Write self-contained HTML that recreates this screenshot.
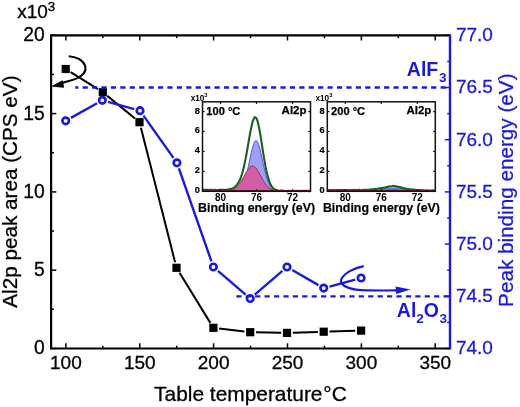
<!DOCTYPE html>
<html><head><meta charset="utf-8"><style>html,body{margin:0;padding:0;background:#fff;overflow:hidden}svg{display:block}</style></head>
<body>
<svg width="520" height="407" viewBox="0 0 520 407">
<rect width="520" height="407" fill="#fff"/>
<path d="M202.5,191.3 L203.4,191.3 L204.3,191.3 L205.2,191.3 L206.1,191.3 L207.0,191.3 L207.9,191.3 L208.8,191.3 L209.7,191.3 L210.6,191.3 L211.5,191.3 L212.4,191.3 L213.3,191.3 L214.2,191.3 L215.1,191.3 L216.0,191.3 L216.9,191.3 L217.8,191.3 L218.7,191.3 L219.6,191.3 L220.5,191.3 L221.4,191.3 L222.3,191.3 L223.2,191.3 L224.1,191.3 L225.0,191.3 L225.9,191.3 L226.8,191.3 L227.7,191.3 L228.6,191.3 L229.5,191.3 L230.4,191.3 L231.3,191.3 L232.2,191.2 L233.1,191.2 L234.0,191.1 L234.9,191.1 L235.8,190.9 L236.7,190.7 L237.6,190.4 L238.5,190.0 L239.4,189.4 L240.3,188.7 L241.2,187.6 L242.1,186.3 L243.0,184.6 L243.9,182.5 L244.8,180.0 L245.7,177.1 L246.6,173.8 L247.5,170.0 L248.4,166.0 L249.3,161.8 L250.2,157.5 L251.1,153.3 L252.0,149.5 L252.9,146.2 L253.8,143.5 L254.7,141.6 L255.6,140.6 L256.5,140.6 L257.4,141.6 L258.3,143.5 L259.2,146.2 L260.1,149.5 L261.0,153.3 L261.9,157.5 L262.8,161.8 L263.7,166.0 L264.6,170.0 L265.5,173.8 L266.4,177.1 L267.3,180.0 L268.2,182.5 L269.1,184.6 L270.0,186.3 L270.9,187.6 L271.8,188.7 L272.7,189.4 L273.6,190.0 L274.5,190.4 L275.4,190.7 L276.3,190.9 L277.2,191.1 L278.1,191.1 L279.0,191.2 L279.9,191.2 L280.8,191.3 L281.7,191.3 L282.6,191.3 L283.5,191.3 L284.4,191.3 L285.3,191.3 L286.2,191.3 L287.1,191.3 L288.0,191.3 L288.9,191.3 L289.8,191.3 L290.7,191.3 L291.6,191.3 L292.5,191.3 L293.4,191.3 L294.3,191.3 L295.2,191.3 L296.1,191.3 L297.0,191.3 L297.9,191.3 L298.8,191.3 L299.7,191.3 L300.6,191.3 L301.5,191.3 L302.4,191.3 L303.3,191.3 L304.2,191.3 L305.1,191.3 L306.0,191.3 L306.9,191.3 L307.8,191.3 L308.7,191.3 L309.6,191.3 L310.5,191.3 L310.50,191.3 L202.50,191.3 Z" fill="#9ca0f8" stroke="none"/>
<path d="M202.5,191.3 L203.4,191.3 L204.3,191.3 L205.2,191.3 L206.1,191.3 L207.0,191.3 L207.9,191.3 L208.8,191.3 L209.7,191.3 L210.6,191.3 L211.5,191.3 L212.4,191.3 L213.3,191.3 L214.2,191.3 L215.1,191.3 L216.0,191.3 L216.9,191.3 L217.8,191.3 L218.7,191.3 L219.6,191.3 L220.5,191.3 L221.4,191.3 L222.3,191.3 L223.2,191.3 L224.1,191.3 L225.0,191.3 L225.9,191.3 L226.8,191.3 L227.7,191.3 L228.6,191.3 L229.5,191.3 L230.4,191.3 L231.3,191.3 L232.2,191.2 L233.1,191.2 L234.0,191.1 L234.9,191.1 L235.8,190.9 L236.7,190.7 L237.6,190.4 L238.5,190.0 L239.4,189.4 L240.3,188.7 L241.2,187.6 L242.1,186.3 L243.0,184.6 L243.9,182.5 L244.8,180.0 L245.7,177.1 L246.6,173.8 L247.5,170.0 L248.4,166.0 L249.3,161.8 L250.2,157.5 L251.1,153.3 L252.0,149.5 L252.9,146.2 L253.8,143.5 L254.7,141.6 L255.6,140.6 L256.5,140.6 L257.4,141.6 L258.3,143.5 L259.2,146.2 L260.1,149.5 L261.0,153.3 L261.9,157.5 L262.8,161.8 L263.7,166.0 L264.6,170.0 L265.5,173.8 L266.4,177.1 L267.3,180.0 L268.2,182.5 L269.1,184.6 L270.0,186.3 L270.9,187.6 L271.8,188.7 L272.7,189.4 L273.6,190.0 L274.5,190.4 L275.4,190.7 L276.3,190.9 L277.2,191.1 L278.1,191.1 L279.0,191.2 L279.9,191.2 L280.8,191.3 L281.7,191.3 L282.6,191.3 L283.5,191.3 L284.4,191.3 L285.3,191.3 L286.2,191.3 L287.1,191.3 L288.0,191.3 L288.9,191.3 L289.8,191.3 L290.7,191.3 L291.6,191.3 L292.5,191.3 L293.4,191.3 L294.3,191.3 L295.2,191.3 L296.1,191.3 L297.0,191.3 L297.9,191.3 L298.8,191.3 L299.7,191.3 L300.6,191.3 L301.5,191.3 L302.4,191.3 L303.3,191.3 L304.2,191.3 L305.1,191.3 L306.0,191.3 L306.9,191.3 L307.8,191.3 L308.7,191.3 L309.6,191.3 L310.5,191.3" fill="none" stroke="#5858e0" stroke-width="1"/>
<path d="M202.5,191.3 L203.4,191.3 L204.3,191.3 L205.2,191.3 L206.1,191.3 L207.0,191.3 L207.9,191.3 L208.8,191.3 L209.7,191.3 L210.6,191.3 L211.5,191.3 L212.4,191.3 L213.3,191.3 L214.2,191.3 L215.1,191.3 L216.0,191.3 L216.9,191.3 L217.8,191.3 L218.7,191.3 L219.6,191.3 L220.5,191.3 L221.4,191.3 L222.3,191.3 L223.2,191.3 L224.1,191.2 L225.0,191.2 L225.9,191.2 L226.8,191.1 L227.7,191.0 L228.6,190.9 L229.5,190.8 L230.4,190.6 L231.3,190.3 L232.2,190.0 L233.1,189.6 L234.0,189.2 L234.9,188.6 L235.8,187.9 L236.7,187.1 L237.6,186.2 L238.5,185.2 L239.4,184.0 L240.3,182.6 L241.2,181.2 L242.1,179.7 L243.0,178.1 L243.9,176.4 L244.8,174.7 L245.7,173.1 L246.6,171.5 L247.5,170.1 L248.4,168.8 L249.3,167.7 L250.2,166.8 L251.1,166.2 L252.0,165.9 L252.9,165.9 L253.8,166.2 L254.7,166.8 L255.6,167.7 L256.5,168.8 L257.4,170.1 L258.3,171.5 L259.2,173.1 L260.1,174.7 L261.0,176.4 L261.9,178.1 L262.8,179.7 L263.7,181.2 L264.6,182.6 L265.5,184.0 L266.4,185.2 L267.3,186.2 L268.2,187.1 L269.1,187.9 L270.0,188.6 L270.9,189.2 L271.8,189.6 L272.7,190.0 L273.6,190.3 L274.5,190.6 L275.4,190.8 L276.3,190.9 L277.2,191.0 L278.1,191.1 L279.0,191.2 L279.9,191.2 L280.8,191.2 L281.7,191.3 L282.6,191.3 L283.5,191.3 L284.4,191.3 L285.3,191.3 L286.2,191.3 L287.1,191.3 L288.0,191.3 L288.9,191.3 L289.8,191.3 L290.7,191.3 L291.6,191.3 L292.5,191.3 L293.4,191.3 L294.3,191.3 L295.2,191.3 L296.1,191.3 L297.0,191.3 L297.9,191.3 L298.8,191.3 L299.7,191.3 L300.6,191.3 L301.5,191.3 L302.4,191.3 L303.3,191.3 L304.2,191.3 L305.1,191.3 L306.0,191.3 L306.9,191.3 L307.8,191.3 L308.7,191.3 L309.6,191.3 L310.5,191.3 L310.50,191.3 L202.50,191.3 Z" fill="#cf5ea2" stroke="none"/>
<path d="M202.5,191.3 L203.4,191.3 L204.3,191.3 L205.2,191.3 L206.1,191.3 L207.0,191.3 L207.9,191.3 L208.8,191.3 L209.7,191.3 L210.6,191.3 L211.5,191.3 L212.4,191.3 L213.3,191.3 L214.2,191.3 L215.1,191.3 L216.0,191.3 L216.9,191.3 L217.8,191.3 L218.7,191.3 L219.6,191.3 L220.5,191.3 L221.4,191.3 L222.3,191.3 L223.2,191.3 L224.1,191.2 L225.0,191.2 L225.9,191.2 L226.8,191.1 L227.7,191.0 L228.6,190.9 L229.5,190.8 L230.4,190.6 L231.3,190.3 L232.2,190.0 L233.1,189.6 L234.0,189.2 L234.9,188.6 L235.8,187.9 L236.7,187.1 L237.6,186.2 L238.5,185.2 L239.4,184.0 L240.3,182.6 L241.2,181.2 L242.1,179.7 L243.0,178.1 L243.9,176.4 L244.8,174.7 L245.7,173.1 L246.6,171.5 L247.5,170.1 L248.4,168.8 L249.3,167.7 L250.2,166.8 L251.1,166.2 L252.0,165.9 L252.9,165.9 L253.8,166.2 L254.7,166.8 L255.6,167.7 L256.5,168.8 L257.4,170.1 L258.3,171.5 L259.2,173.1 L260.1,174.7 L261.0,176.4 L261.9,178.1 L262.8,179.7 L263.7,181.2 L264.6,182.6 L265.5,184.0 L266.4,185.2 L267.3,186.2 L268.2,187.1 L269.1,187.9 L270.0,188.6 L270.9,189.2 L271.8,189.6 L272.7,190.0 L273.6,190.3 L274.5,190.6 L275.4,190.8 L276.3,190.9 L277.2,191.0 L278.1,191.1 L279.0,191.2 L279.9,191.2 L280.8,191.2 L281.7,191.3 L282.6,191.3 L283.5,191.3 L284.4,191.3 L285.3,191.3 L286.2,191.3 L287.1,191.3 L288.0,191.3 L288.9,191.3 L289.8,191.3 L290.7,191.3 L291.6,191.3 L292.5,191.3 L293.4,191.3 L294.3,191.3 L295.2,191.3 L296.1,191.3 L297.0,191.3 L297.9,191.3 L298.8,191.3 L299.7,191.3 L300.6,191.3 L301.5,191.3 L302.4,191.3 L303.3,191.3 L304.2,191.3 L305.1,191.3 L306.0,191.3 L306.9,191.3 L307.8,191.3 L308.7,191.3 L309.6,191.3 L310.5,191.3" fill="none" stroke="#a82a5e" stroke-width="1"/>
<path d="M202.5,189.8 L203.4,189.8 L204.3,189.8 L205.2,189.7 L206.1,189.8 L207.0,189.7 L207.9,190.1 L208.8,189.9 L209.7,189.7 L210.6,189.8 L211.5,189.7 L212.4,190.1 L213.3,189.9 L214.2,190.0 L215.1,189.9 L216.0,189.9 L216.9,190.1 L217.8,190.0 L218.7,190.0 L219.6,189.7 L220.5,189.8 L221.4,190.1 L222.3,189.7 L223.2,190.0 L224.1,189.8 L225.0,190.0 L225.9,190.0 L226.8,189.5 L227.7,189.8 L228.6,189.7 L229.5,189.1 L230.4,189.0 L231.3,189.0 L232.2,188.4 L233.1,188.2 L234.0,187.6 L234.9,187.2 L235.8,186.0 L236.7,185.2 L237.6,183.8 L238.5,182.4 L239.4,181.0 L240.3,178.9 L241.2,176.6 L242.1,173.8 L243.0,170.6 L243.9,166.8 L244.8,162.6 L245.7,158.4 L246.6,153.2 L247.5,148.3 L248.4,143.1 L249.3,137.7 L250.2,132.8 L251.1,128.3 L252.0,124.2 L252.9,120.8 L253.8,118.8 L254.7,117.1 L255.6,117.5 L256.5,118.3 L257.4,120.5 L258.3,124.2 L259.2,128.1 L260.1,133.2 L261.0,138.6 L261.9,144.6 L262.8,150.4 L263.7,156.1 L264.6,161.1 L265.5,166.4 L266.4,170.7 L267.3,174.5 L268.2,177.9 L269.1,181.0 L270.0,183.3 L270.9,185.1 L271.8,186.5 L272.7,188.0 L273.6,188.5 L274.5,189.1 L275.4,189.6 L276.3,190.3 L277.2,190.1 L278.1,190.7 L279.0,190.7 L279.9,190.7 L280.8,190.6 L281.7,190.9 L282.6,190.6 L283.5,190.8 L284.4,191.0 L285.3,191.0 L286.2,191.1 L287.1,191.1 L288.0,191.1 L288.9,190.8 L289.8,190.7 L290.7,191.1 L291.6,191.1 L292.5,190.7 L293.4,190.9 L294.3,190.9 L295.2,191.0 L296.1,190.9 L297.0,190.7 L297.9,190.9 L298.8,190.9 L299.7,191.1 L300.6,190.7 L301.5,191.1 L302.4,190.9 L303.3,190.7 L304.2,191.1 L305.1,190.8 L306.0,190.7 L306.9,190.8 L307.8,190.8 L308.7,191.1 L309.6,190.9 L310.5,191.1" fill="none" stroke="#1b5f22" stroke-width="2.1" stroke-linejoin="round"/>
<line x1="202.5" y1="190.5" x2="310.5" y2="190.5" stroke="#7a1a2a" stroke-width="1"/>
<rect x="202.5" y="101.8" width="108.0" height="89.50000000000001" fill="none" stroke="#111" stroke-width="1.5"/>
<line x1="202.5" y1="171.38" x2="204.7" y2="171.38" stroke="#1a1a1a" stroke-width="1.2"/>
<line x1="310.5" y1="171.38" x2="308.3" y2="171.38" stroke="#1a1a1a" stroke-width="1.2"/>
<line x1="202.5" y1="151.45" x2="204.7" y2="151.45" stroke="#1a1a1a" stroke-width="1.2"/>
<line x1="310.5" y1="151.45" x2="308.3" y2="151.45" stroke="#1a1a1a" stroke-width="1.2"/>
<line x1="202.5" y1="131.53" x2="204.7" y2="131.53" stroke="#1a1a1a" stroke-width="1.2"/>
<line x1="310.5" y1="131.53" x2="308.3" y2="131.53" stroke="#1a1a1a" stroke-width="1.2"/>
<line x1="202.5" y1="111.60" x2="204.7" y2="111.60" stroke="#1a1a1a" stroke-width="1.2"/>
<line x1="310.5" y1="111.60" x2="308.3" y2="111.60" stroke="#1a1a1a" stroke-width="1.2"/>
<line x1="220.50" y1="101.8" x2="220.50" y2="104.0" stroke="#1a1a1a" stroke-width="1.2"/>
<line x1="220.50" y1="191.3" x2="220.50" y2="189.10000000000002" stroke="#1a1a1a" stroke-width="1.2"/>
<line x1="256.50" y1="101.8" x2="256.50" y2="104.0" stroke="#1a1a1a" stroke-width="1.2"/>
<line x1="256.50" y1="191.3" x2="256.50" y2="189.10000000000002" stroke="#1a1a1a" stroke-width="1.2"/>
<line x1="292.50" y1="101.8" x2="292.50" y2="104.0" stroke="#1a1a1a" stroke-width="1.2"/>
<line x1="292.50" y1="191.3" x2="292.50" y2="189.10000000000002" stroke="#1a1a1a" stroke-width="1.2"/>
<text x="199.90" y="193.20" font-family="Liberation Sans, Arial, sans-serif" font-size="9.2" font-weight="bold" text-anchor="end" stroke="#000" stroke-width="0.2">0</text>
<text x="199.90" y="173.28" font-family="Liberation Sans, Arial, sans-serif" font-size="9.2" font-weight="bold" text-anchor="end" stroke="#000" stroke-width="0.2">2</text>
<text x="199.90" y="153.35" font-family="Liberation Sans, Arial, sans-serif" font-size="9.2" font-weight="bold" text-anchor="end" stroke="#000" stroke-width="0.2">4</text>
<text x="199.90" y="133.43" font-family="Liberation Sans, Arial, sans-serif" font-size="9.2" font-weight="bold" text-anchor="end" stroke="#000" stroke-width="0.2">6</text>
<text x="199.90" y="113.50" font-family="Liberation Sans, Arial, sans-serif" font-size="9.2" font-weight="bold" text-anchor="end" stroke="#000" stroke-width="0.2">8</text>
<text x="220.50" y="200.6" font-family="Liberation Sans, Arial, sans-serif" font-size="10" font-weight="bold" text-anchor="middle">80</text>
<text x="256.50" y="200.6" font-family="Liberation Sans, Arial, sans-serif" font-size="10" font-weight="bold" text-anchor="middle">76</text>
<text x="292.50" y="200.6" font-family="Liberation Sans, Arial, sans-serif" font-size="10" font-weight="bold" text-anchor="middle">72</text>
<text x="190.70" y="100.8" font-family="Liberation Sans, Arial, sans-serif" font-size="8.2" font-weight="bold">x10<tspan font-size="5.6" dy="-3.6">3</tspan></text>
<text x="206.30" y="114.7" font-family="Liberation Sans, Arial, sans-serif" font-size="11.1" font-weight="bold" stroke="#000" stroke-width="0.25">100 °C</text>
<text x="306.50" y="114.0" font-family="Liberation Sans, Arial, sans-serif" font-size="11.5" font-weight="bold" text-anchor="end" stroke="#000" stroke-width="0.25">Al2p</text>
<text x="198.10" y="211.7" font-family="Liberation Sans, Arial, sans-serif" font-size="12.4" font-weight="bold" stroke="#000" stroke-width="0.2">Binding energy (eV)</text>
<path d="M327.3,191.3 L328.2,191.3 L329.1,191.3 L330.0,191.3 L330.9,191.3 L331.8,191.3 L332.7,191.3 L333.6,191.3 L334.5,191.3 L335.4,191.3 L336.3,191.3 L337.2,191.3 L338.1,191.3 L339.0,191.3 L339.9,191.3 L340.8,191.3 L341.7,191.3 L342.6,191.3 L343.5,191.3 L344.4,191.3 L345.3,191.3 L346.2,191.3 L347.1,191.3 L348.0,191.3 L348.9,191.3 L349.8,191.3 L350.7,191.3 L351.6,191.3 L352.5,191.3 L353.4,191.3 L354.3,191.3 L355.2,191.3 L356.1,191.3 L357.0,191.3 L357.9,191.3 L358.8,191.3 L359.7,191.3 L360.6,191.3 L361.5,191.2 L362.4,191.2 L363.3,191.2 L364.2,191.2 L365.1,191.2 L366.0,191.2 L366.9,191.1 L367.8,191.1 L368.7,191.0 L369.6,191.0 L370.5,190.9 L371.4,190.9 L372.3,190.8 L373.2,190.7 L374.1,190.6 L375.0,190.5 L375.9,190.4 L376.8,190.3 L377.7,190.2 L378.6,190.0 L379.5,189.9 L380.4,189.7 L381.3,189.6 L382.2,189.4 L383.1,189.3 L384.0,189.1 L384.9,189.0 L385.8,188.8 L386.7,188.7 L387.6,188.6 L388.5,188.5 L389.4,188.4 L390.3,188.3 L391.2,188.2 L392.1,188.2 L393.0,188.1 L393.9,188.1 L394.8,188.1 L395.7,188.2 L396.6,188.2 L397.5,188.3 L398.4,188.4 L399.3,188.5 L400.2,188.6 L401.1,188.7 L402.0,188.8 L402.9,189.0 L403.8,189.1 L404.7,189.3 L405.6,189.4 L406.5,189.6 L407.4,189.7 L408.3,189.9 L409.2,190.0 L410.1,190.2 L411.0,190.3 L411.9,190.4 L412.8,190.5 L413.7,190.6 L414.6,190.7 L415.5,190.8 L416.4,190.9 L417.3,190.9 L418.2,191.0 L419.1,191.0 L420.0,191.1 L420.9,191.1 L421.8,191.2 L422.7,191.2 L423.6,191.2 L424.5,191.2 L425.4,191.2 L426.3,191.2 L427.2,191.3 L428.1,191.3 L429.0,191.3 L429.9,191.3 L430.8,191.3 L431.7,191.3 L432.6,191.3 L433.5,191.3 L434.4,191.3 L435.3,191.3 L435.30,191.3 L327.30,191.3 Z" fill="#9ca0f8" stroke="none"/>
<path d="M327.3,191.3 L328.2,191.3 L329.1,191.3 L330.0,191.3 L330.9,191.3 L331.8,191.3 L332.7,191.3 L333.6,191.3 L334.5,191.3 L335.4,191.3 L336.3,191.3 L337.2,191.3 L338.1,191.3 L339.0,191.3 L339.9,191.3 L340.8,191.3 L341.7,191.3 L342.6,191.3 L343.5,191.3 L344.4,191.3 L345.3,191.3 L346.2,191.3 L347.1,191.3 L348.0,191.3 L348.9,191.3 L349.8,191.3 L350.7,191.3 L351.6,191.3 L352.5,191.3 L353.4,191.3 L354.3,191.3 L355.2,191.3 L356.1,191.3 L357.0,191.3 L357.9,191.3 L358.8,191.3 L359.7,191.3 L360.6,191.3 L361.5,191.2 L362.4,191.2 L363.3,191.2 L364.2,191.2 L365.1,191.2 L366.0,191.2 L366.9,191.1 L367.8,191.1 L368.7,191.0 L369.6,191.0 L370.5,190.9 L371.4,190.9 L372.3,190.8 L373.2,190.7 L374.1,190.6 L375.0,190.5 L375.9,190.4 L376.8,190.3 L377.7,190.2 L378.6,190.0 L379.5,189.9 L380.4,189.7 L381.3,189.6 L382.2,189.4 L383.1,189.3 L384.0,189.1 L384.9,189.0 L385.8,188.8 L386.7,188.7 L387.6,188.6 L388.5,188.5 L389.4,188.4 L390.3,188.3 L391.2,188.2 L392.1,188.2 L393.0,188.1 L393.9,188.1 L394.8,188.1 L395.7,188.2 L396.6,188.2 L397.5,188.3 L398.4,188.4 L399.3,188.5 L400.2,188.6 L401.1,188.7 L402.0,188.8 L402.9,189.0 L403.8,189.1 L404.7,189.3 L405.6,189.4 L406.5,189.6 L407.4,189.7 L408.3,189.9 L409.2,190.0 L410.1,190.2 L411.0,190.3 L411.9,190.4 L412.8,190.5 L413.7,190.6 L414.6,190.7 L415.5,190.8 L416.4,190.9 L417.3,190.9 L418.2,191.0 L419.1,191.0 L420.0,191.1 L420.9,191.1 L421.8,191.2 L422.7,191.2 L423.6,191.2 L424.5,191.2 L425.4,191.2 L426.3,191.2 L427.2,191.3 L428.1,191.3 L429.0,191.3 L429.9,191.3 L430.8,191.3 L431.7,191.3 L432.6,191.3 L433.5,191.3 L434.4,191.3 L435.3,191.3" fill="none" stroke="#5858e0" stroke-width="1"/>
<path d="M327.3,191.3 L328.2,191.3 L329.1,191.3 L330.0,191.3 L330.9,191.3 L331.8,191.3 L332.7,191.3 L333.6,191.3 L334.5,191.3 L335.4,191.3 L336.3,191.3 L337.2,191.3 L338.1,191.3 L339.0,191.3 L339.9,191.3 L340.8,191.3 L341.7,191.3 L342.6,191.3 L343.5,191.3 L344.4,191.3 L345.3,191.3 L346.2,191.3 L347.1,191.3 L348.0,191.3 L348.9,191.3 L349.8,191.3 L350.7,191.3 L351.6,191.3 L352.5,191.3 L353.4,191.3 L354.3,191.3 L355.2,191.3 L356.1,191.3 L357.0,191.3 L357.9,191.3 L358.8,191.3 L359.7,191.3 L360.6,191.3 L361.5,191.3 L362.4,191.3 L363.3,191.3 L364.2,191.3 L365.1,191.2 L366.0,191.2 L366.9,191.2 L367.8,191.2 L368.7,191.2 L369.6,191.1 L370.5,191.1 L371.4,191.1 L372.3,191.0 L373.2,191.0 L374.1,190.9 L375.0,190.9 L375.9,190.8 L376.8,190.7 L377.7,190.7 L378.6,190.6 L379.5,190.5 L380.4,190.4 L381.3,190.3 L382.2,190.2 L383.1,190.1 L384.0,190.0 L384.9,189.9 L385.8,189.9 L386.7,189.8 L387.6,189.7 L388.5,189.6 L389.4,189.6 L390.3,189.5 L391.2,189.5 L392.1,189.5 L393.0,189.5 L393.9,189.5 L394.8,189.5 L395.7,189.6 L396.6,189.6 L397.5,189.7 L398.4,189.8 L399.3,189.9 L400.2,189.9 L401.1,190.0 L402.0,190.1 L402.9,190.2 L403.8,190.3 L404.7,190.4 L405.6,190.5 L406.5,190.6 L407.4,190.7 L408.3,190.7 L409.2,190.8 L410.1,190.9 L411.0,190.9 L411.9,191.0 L412.8,191.0 L413.7,191.1 L414.6,191.1 L415.5,191.1 L416.4,191.2 L417.3,191.2 L418.2,191.2 L419.1,191.2 L420.0,191.2 L420.9,191.3 L421.8,191.3 L422.7,191.3 L423.6,191.3 L424.5,191.3 L425.4,191.3 L426.3,191.3 L427.2,191.3 L428.1,191.3 L429.0,191.3 L429.9,191.3 L430.8,191.3 L431.7,191.3 L432.6,191.3 L433.5,191.3 L434.4,191.3 L435.3,191.3 L435.30,191.3 L327.30,191.3 Z" fill="#cf5ea2" stroke="none"/>
<path d="M327.3,191.3 L328.2,191.3 L329.1,191.3 L330.0,191.3 L330.9,191.3 L331.8,191.3 L332.7,191.3 L333.6,191.3 L334.5,191.3 L335.4,191.3 L336.3,191.3 L337.2,191.3 L338.1,191.3 L339.0,191.3 L339.9,191.3 L340.8,191.3 L341.7,191.3 L342.6,191.3 L343.5,191.3 L344.4,191.3 L345.3,191.3 L346.2,191.3 L347.1,191.3 L348.0,191.3 L348.9,191.3 L349.8,191.3 L350.7,191.3 L351.6,191.3 L352.5,191.3 L353.4,191.3 L354.3,191.3 L355.2,191.3 L356.1,191.3 L357.0,191.3 L357.9,191.3 L358.8,191.3 L359.7,191.3 L360.6,191.3 L361.5,191.3 L362.4,191.3 L363.3,191.3 L364.2,191.3 L365.1,191.2 L366.0,191.2 L366.9,191.2 L367.8,191.2 L368.7,191.2 L369.6,191.1 L370.5,191.1 L371.4,191.1 L372.3,191.0 L373.2,191.0 L374.1,190.9 L375.0,190.9 L375.9,190.8 L376.8,190.7 L377.7,190.7 L378.6,190.6 L379.5,190.5 L380.4,190.4 L381.3,190.3 L382.2,190.2 L383.1,190.1 L384.0,190.0 L384.9,189.9 L385.8,189.9 L386.7,189.8 L387.6,189.7 L388.5,189.6 L389.4,189.6 L390.3,189.5 L391.2,189.5 L392.1,189.5 L393.0,189.5 L393.9,189.5 L394.8,189.5 L395.7,189.6 L396.6,189.6 L397.5,189.7 L398.4,189.8 L399.3,189.9 L400.2,189.9 L401.1,190.0 L402.0,190.1 L402.9,190.2 L403.8,190.3 L404.7,190.4 L405.6,190.5 L406.5,190.6 L407.4,190.7 L408.3,190.7 L409.2,190.8 L410.1,190.9 L411.0,190.9 L411.9,191.0 L412.8,191.0 L413.7,191.1 L414.6,191.1 L415.5,191.1 L416.4,191.2 L417.3,191.2 L418.2,191.2 L419.1,191.2 L420.0,191.2 L420.9,191.3 L421.8,191.3 L422.7,191.3 L423.6,191.3 L424.5,191.3 L425.4,191.3 L426.3,191.3 L427.2,191.3 L428.1,191.3 L429.0,191.3 L429.9,191.3 L430.8,191.3 L431.7,191.3 L432.6,191.3 L433.5,191.3 L434.4,191.3 L435.3,191.3" fill="none" stroke="#a82a5e" stroke-width="1"/>
<path d="M327.3,190.2 L328.2,190.1 L329.1,190.2 L330.0,190.1 L330.9,190.0 L331.8,190.3 L332.7,190.3 L333.6,189.9 L334.5,190.2 L335.4,190.2 L336.3,189.9 L337.2,190.1 L338.1,189.9 L339.0,190.1 L339.9,190.0 L340.8,190.3 L341.7,190.0 L342.6,189.9 L343.5,190.1 L344.4,190.0 L345.3,190.0 L346.2,190.3 L347.1,190.0 L348.0,190.0 L348.9,190.2 L349.8,190.3 L350.7,189.9 L351.6,190.1 L352.5,190.0 L353.4,189.9 L354.3,190.0 L355.2,189.9 L356.1,190.1 L357.0,189.9 L357.9,190.1 L358.8,189.8 L359.7,189.8 L360.6,190.2 L361.5,190.2 L362.4,190.1 L363.3,189.7 L364.2,189.9 L365.1,189.8 L366.0,189.9 L366.9,189.8 L367.8,189.8 L368.7,189.8 L369.6,189.6 L370.5,189.6 L371.4,189.3 L372.3,189.4 L373.2,189.2 L374.1,189.1 L375.0,188.9 L375.9,189.0 L376.8,189.1 L377.7,188.7 L378.6,188.5 L379.5,188.4 L380.4,188.4 L381.3,188.1 L382.2,188.2 L383.1,187.7 L384.0,187.7 L384.9,187.6 L385.8,187.5 L386.7,186.9 L387.6,186.7 L388.5,186.9 L389.4,186.4 L390.3,186.4 L391.2,186.4 L392.1,186.2 L393.0,185.9 L393.9,185.8 L394.8,186.4 L395.7,186.2 L396.6,186.7 L397.5,186.6 L398.4,187.0 L399.3,186.9 L400.2,187.1 L401.1,187.6 L402.0,187.5 L402.9,188.1 L403.8,188.4 L404.7,188.3 L405.6,188.8 L406.5,188.9 L407.4,188.9 L408.3,189.0 L409.2,189.4 L410.1,189.6 L411.0,189.3 L411.9,189.7 L412.8,189.4 L413.7,189.6 L414.6,189.9 L415.5,189.9 L416.4,190.0 L417.3,190.0 L418.2,190.1 L419.1,190.1 L420.0,190.1 L420.9,190.0 L421.8,190.3 L422.7,190.3 L423.6,190.2 L424.5,190.5 L425.4,190.5 L426.3,190.2 L427.2,190.4 L428.1,190.4 L429.0,190.7 L429.9,190.5 L430.8,190.4 L431.7,190.7 L432.6,190.4 L433.5,190.4 L434.4,190.7 L435.3,190.4" fill="none" stroke="#1b5f22" stroke-width="2.1" stroke-linejoin="round"/>
<line x1="327.3" y1="190.5" x2="435.3" y2="190.5" stroke="#7a1a2a" stroke-width="1"/>
<rect x="327.3" y="101.8" width="108.0" height="89.50000000000001" fill="none" stroke="#111" stroke-width="1.5"/>
<line x1="327.3" y1="171.38" x2="329.5" y2="171.38" stroke="#1a1a1a" stroke-width="1.2"/>
<line x1="435.3" y1="171.38" x2="433.1" y2="171.38" stroke="#1a1a1a" stroke-width="1.2"/>
<line x1="327.3" y1="151.45" x2="329.5" y2="151.45" stroke="#1a1a1a" stroke-width="1.2"/>
<line x1="435.3" y1="151.45" x2="433.1" y2="151.45" stroke="#1a1a1a" stroke-width="1.2"/>
<line x1="327.3" y1="131.53" x2="329.5" y2="131.53" stroke="#1a1a1a" stroke-width="1.2"/>
<line x1="435.3" y1="131.53" x2="433.1" y2="131.53" stroke="#1a1a1a" stroke-width="1.2"/>
<line x1="327.3" y1="111.60" x2="329.5" y2="111.60" stroke="#1a1a1a" stroke-width="1.2"/>
<line x1="435.3" y1="111.60" x2="433.1" y2="111.60" stroke="#1a1a1a" stroke-width="1.2"/>
<line x1="345.30" y1="101.8" x2="345.30" y2="104.0" stroke="#1a1a1a" stroke-width="1.2"/>
<line x1="345.30" y1="191.3" x2="345.30" y2="189.10000000000002" stroke="#1a1a1a" stroke-width="1.2"/>
<line x1="381.30" y1="101.8" x2="381.30" y2="104.0" stroke="#1a1a1a" stroke-width="1.2"/>
<line x1="381.30" y1="191.3" x2="381.30" y2="189.10000000000002" stroke="#1a1a1a" stroke-width="1.2"/>
<line x1="417.30" y1="101.8" x2="417.30" y2="104.0" stroke="#1a1a1a" stroke-width="1.2"/>
<line x1="417.30" y1="191.3" x2="417.30" y2="189.10000000000002" stroke="#1a1a1a" stroke-width="1.2"/>
<text x="324.70" y="193.20" font-family="Liberation Sans, Arial, sans-serif" font-size="9.2" font-weight="bold" text-anchor="end" stroke="#000" stroke-width="0.2">0</text>
<text x="324.70" y="173.28" font-family="Liberation Sans, Arial, sans-serif" font-size="9.2" font-weight="bold" text-anchor="end" stroke="#000" stroke-width="0.2">2</text>
<text x="324.70" y="153.35" font-family="Liberation Sans, Arial, sans-serif" font-size="9.2" font-weight="bold" text-anchor="end" stroke="#000" stroke-width="0.2">4</text>
<text x="324.70" y="133.43" font-family="Liberation Sans, Arial, sans-serif" font-size="9.2" font-weight="bold" text-anchor="end" stroke="#000" stroke-width="0.2">6</text>
<text x="324.70" y="113.50" font-family="Liberation Sans, Arial, sans-serif" font-size="9.2" font-weight="bold" text-anchor="end" stroke="#000" stroke-width="0.2">8</text>
<text x="345.30" y="200.6" font-family="Liberation Sans, Arial, sans-serif" font-size="10" font-weight="bold" text-anchor="middle">80</text>
<text x="381.30" y="200.6" font-family="Liberation Sans, Arial, sans-serif" font-size="10" font-weight="bold" text-anchor="middle">76</text>
<text x="417.30" y="200.6" font-family="Liberation Sans, Arial, sans-serif" font-size="10" font-weight="bold" text-anchor="middle">72</text>
<text x="315.50" y="100.8" font-family="Liberation Sans, Arial, sans-serif" font-size="8.2" font-weight="bold">x10<tspan font-size="5.6" dy="-3.6">3</tspan></text>
<text x="331.10" y="114.7" font-family="Liberation Sans, Arial, sans-serif" font-size="11.1" font-weight="bold" stroke="#000" stroke-width="0.25">200 °C</text>
<text x="431.30" y="114.0" font-family="Liberation Sans, Arial, sans-serif" font-size="11.5" font-weight="bold" text-anchor="end" stroke="#000" stroke-width="0.25">Al2p</text>
<text x="322.90" y="211.7" font-family="Liberation Sans, Arial, sans-serif" font-size="12.4" font-weight="bold" stroke="#000" stroke-width="0.2">Binding energy (eV)</text>
<line x1="65.87" y1="348.5" x2="65.87" y2="343.3" stroke="#000" stroke-width="1.5"/>
<line x1="65.87" y1="35.3" x2="65.87" y2="40.5" stroke="#000" stroke-width="1.5"/>
<line x1="102.81" y1="348.5" x2="102.81" y2="345.7" stroke="#000" stroke-width="1.5"/>
<line x1="102.81" y1="35.3" x2="102.81" y2="38.099999999999994" stroke="#000" stroke-width="1.5"/>
<line x1="139.74" y1="348.5" x2="139.74" y2="343.3" stroke="#000" stroke-width="1.5"/>
<line x1="139.74" y1="35.3" x2="139.74" y2="40.5" stroke="#000" stroke-width="1.5"/>
<line x1="176.68" y1="348.5" x2="176.68" y2="345.7" stroke="#000" stroke-width="1.5"/>
<line x1="176.68" y1="35.3" x2="176.68" y2="38.099999999999994" stroke="#000" stroke-width="1.5"/>
<line x1="213.61" y1="348.5" x2="213.61" y2="343.3" stroke="#000" stroke-width="1.5"/>
<line x1="213.61" y1="35.3" x2="213.61" y2="40.5" stroke="#000" stroke-width="1.5"/>
<line x1="250.55" y1="348.5" x2="250.55" y2="345.7" stroke="#000" stroke-width="1.5"/>
<line x1="250.55" y1="35.3" x2="250.55" y2="38.099999999999994" stroke="#000" stroke-width="1.5"/>
<line x1="287.49" y1="348.5" x2="287.49" y2="343.3" stroke="#000" stroke-width="1.5"/>
<line x1="287.49" y1="35.3" x2="287.49" y2="40.5" stroke="#000" stroke-width="1.5"/>
<line x1="324.42" y1="348.5" x2="324.42" y2="345.7" stroke="#000" stroke-width="1.5"/>
<line x1="324.42" y1="35.3" x2="324.42" y2="38.099999999999994" stroke="#000" stroke-width="1.5"/>
<line x1="361.36" y1="348.5" x2="361.36" y2="343.3" stroke="#000" stroke-width="1.5"/>
<line x1="361.36" y1="35.3" x2="361.36" y2="40.5" stroke="#000" stroke-width="1.5"/>
<line x1="398.29" y1="348.5" x2="398.29" y2="345.7" stroke="#000" stroke-width="1.5"/>
<line x1="398.29" y1="35.3" x2="398.29" y2="38.099999999999994" stroke="#000" stroke-width="1.5"/>
<line x1="435.23" y1="348.5" x2="435.23" y2="343.3" stroke="#000" stroke-width="1.5"/>
<line x1="435.23" y1="35.3" x2="435.23" y2="40.5" stroke="#000" stroke-width="1.5"/>
<line x1="51.1" y1="348.50" x2="56.300000000000004" y2="348.50" stroke="#000" stroke-width="1.5"/>
<line x1="51.1" y1="309.35" x2="53.9" y2="309.35" stroke="#000" stroke-width="1.5"/>
<line x1="51.1" y1="270.20" x2="56.300000000000004" y2="270.20" stroke="#000" stroke-width="1.5"/>
<line x1="51.1" y1="231.05" x2="53.9" y2="231.05" stroke="#000" stroke-width="1.5"/>
<line x1="51.1" y1="191.90" x2="56.300000000000004" y2="191.90" stroke="#000" stroke-width="1.5"/>
<line x1="51.1" y1="152.75" x2="53.9" y2="152.75" stroke="#000" stroke-width="1.5"/>
<line x1="51.1" y1="113.60" x2="56.300000000000004" y2="113.60" stroke="#000" stroke-width="1.5"/>
<line x1="51.1" y1="74.45" x2="53.9" y2="74.45" stroke="#000" stroke-width="1.5"/>
<line x1="51.1" y1="35.30" x2="56.300000000000004" y2="35.30" stroke="#000" stroke-width="1.5"/>
<line x1="450.0" y1="348.50" x2="444.8" y2="348.50" stroke="#1b1bd2" stroke-width="1.5"/>
<line x1="450.0" y1="322.40" x2="447.2" y2="322.40" stroke="#1b1bd2" stroke-width="1.5"/>
<line x1="450.0" y1="296.30" x2="444.8" y2="296.30" stroke="#1b1bd2" stroke-width="1.5"/>
<line x1="450.0" y1="270.20" x2="447.2" y2="270.20" stroke="#1b1bd2" stroke-width="1.5"/>
<line x1="450.0" y1="244.10" x2="444.8" y2="244.10" stroke="#1b1bd2" stroke-width="1.5"/>
<line x1="450.0" y1="218.00" x2="447.2" y2="218.00" stroke="#1b1bd2" stroke-width="1.5"/>
<line x1="450.0" y1="191.90" x2="444.8" y2="191.90" stroke="#1b1bd2" stroke-width="1.5"/>
<line x1="450.0" y1="165.80" x2="447.2" y2="165.80" stroke="#1b1bd2" stroke-width="1.5"/>
<line x1="450.0" y1="139.70" x2="444.8" y2="139.70" stroke="#1b1bd2" stroke-width="1.5"/>
<line x1="450.0" y1="113.60" x2="447.2" y2="113.60" stroke="#1b1bd2" stroke-width="1.5"/>
<line x1="450.0" y1="87.50" x2="444.8" y2="87.50" stroke="#1b1bd2" stroke-width="1.5"/>
<line x1="450.0" y1="61.40" x2="447.2" y2="61.40" stroke="#1b1bd2" stroke-width="1.5"/>
<line x1="450.0" y1="35.30" x2="444.8" y2="35.30" stroke="#1b1bd2" stroke-width="1.5"/>
<path d="M450.0,35.3 L51.1,35.3 L51.1,348.5 L450.0,348.5" fill="none" stroke="#000" stroke-width="2.2"/>
<line x1="450.0" y1="34.199999999999996" x2="450.0" y2="349.6" stroke="#1b1bd2" stroke-width="2.4"/>
<text x="44.8" y="354.40" font-family="Liberation Sans, Arial, sans-serif" font-size="19.3" text-anchor="end" stroke="#000" stroke-width="0.3">0</text>
<text x="44.8" y="276.10" font-family="Liberation Sans, Arial, sans-serif" font-size="19.3" text-anchor="end" stroke="#000" stroke-width="0.3">5</text>
<text x="44.8" y="197.80" font-family="Liberation Sans, Arial, sans-serif" font-size="19.3" text-anchor="end" stroke="#000" stroke-width="0.3">10</text>
<text x="44.8" y="119.50" font-family="Liberation Sans, Arial, sans-serif" font-size="19.3" text-anchor="end" stroke="#000" stroke-width="0.3">15</text>
<text x="44.8" y="40.80" font-family="Liberation Sans, Arial, sans-serif" font-size="19.3" text-anchor="end" stroke="#000" stroke-width="0.3">20</text>
<text x="455.9" y="354.40" font-family="Liberation Sans, Arial, sans-serif" font-size="19" fill="#1b1bd2" stroke="#1b1bd2" stroke-width="0.3">74.0</text>
<text x="455.9" y="302.20" font-family="Liberation Sans, Arial, sans-serif" font-size="19" fill="#1b1bd2" stroke="#1b1bd2" stroke-width="0.3">74.5</text>
<text x="455.9" y="250.00" font-family="Liberation Sans, Arial, sans-serif" font-size="19" fill="#1b1bd2" stroke="#1b1bd2" stroke-width="0.3">75.0</text>
<text x="455.9" y="197.80" font-family="Liberation Sans, Arial, sans-serif" font-size="19" fill="#1b1bd2" stroke="#1b1bd2" stroke-width="0.3">75.5</text>
<text x="455.9" y="145.60" font-family="Liberation Sans, Arial, sans-serif" font-size="19" fill="#1b1bd2" stroke="#1b1bd2" stroke-width="0.3">76.0</text>
<text x="455.9" y="93.40" font-family="Liberation Sans, Arial, sans-serif" font-size="19" fill="#1b1bd2" stroke="#1b1bd2" stroke-width="0.3">76.5</text>
<text x="455.9" y="41.20" font-family="Liberation Sans, Arial, sans-serif" font-size="19" fill="#1b1bd2" stroke="#1b1bd2" stroke-width="0.3">77.0</text>
<text x="65.87" y="369.2" font-family="Liberation Sans, Arial, sans-serif" font-size="19" text-anchor="middle" stroke="#000" stroke-width="0.3">100</text>
<text x="139.74" y="369.2" font-family="Liberation Sans, Arial, sans-serif" font-size="19" text-anchor="middle" stroke="#000" stroke-width="0.3">150</text>
<text x="213.61" y="369.2" font-family="Liberation Sans, Arial, sans-serif" font-size="19" text-anchor="middle" stroke="#000" stroke-width="0.3">200</text>
<text x="287.49" y="369.2" font-family="Liberation Sans, Arial, sans-serif" font-size="19" text-anchor="middle" stroke="#000" stroke-width="0.3">250</text>
<text x="361.36" y="369.2" font-family="Liberation Sans, Arial, sans-serif" font-size="19" text-anchor="middle" stroke="#000" stroke-width="0.3">300</text>
<text x="435.23" y="369.2" font-family="Liberation Sans, Arial, sans-serif" font-size="19" text-anchor="middle" stroke="#000" stroke-width="0.3">350</text>
<text transform="translate(16.6,191.6) rotate(-90)" font-family="Liberation Sans, Arial, sans-serif" font-size="20.7" text-anchor="middle" stroke="#000" stroke-width="0.3">Al2p peak area (CPS eV)</text>
<text transform="translate(513.2,190.2) rotate(-90)" font-family="Liberation Sans, Arial, sans-serif" font-size="20.7" text-anchor="middle" fill="#1b1bd2" stroke="#1b1bd2" stroke-width="0.3">Peak binding energy (eV)</text>
<text x="250.4" y="400.9" font-family="Liberation Sans, Arial, sans-serif" font-size="20.9" text-anchor="middle" stroke="#000" stroke-width="0.3">Table temperature<tspan dx="0.8">°</tspan>C</text>
<text x="17.2" y="18.3" font-family="Liberation Sans, Arial, sans-serif" font-size="19" stroke="#000" stroke-width="0.3">x10<tspan font-size="13.4" dy="-7.8">3</tspan></text>
<line x1="70.67" y1="72.08" x2="97.88" y2="89.12" stroke="#000" stroke-width="2"/>
<line x1="107.29" y1="95.87" x2="135.01" y2="118.53" stroke="#000" stroke-width="2"/>
<line x1="140.93" y1="127.82" x2="175.07" y2="262.18" stroke="#000" stroke-width="2"/>
<line x1="179.54" y1="272.74" x2="210.36" y2="322.86" stroke="#000" stroke-width="2"/>
<line x1="219.16" y1="328.49" x2="244.44" y2="331.51" stroke="#000" stroke-width="2"/>
<line x1="256.00" y1="332.31" x2="281.20" y2="332.79" stroke="#000" stroke-width="2"/>
<line x1="292.80" y1="332.71" x2="317.90" y2="331.89" stroke="#000" stroke-width="2"/>
<line x1="329.50" y1="331.53" x2="355.30" y2="330.77" stroke="#000" stroke-width="2"/>
<rect x="61.65" y="64.90" width="8.2" height="8.2" fill="#000"/>
<rect x="98.70" y="88.10" width="8.2" height="8.2" fill="#000"/>
<rect x="135.40" y="118.10" width="8.2" height="8.2" fill="#000"/>
<rect x="172.40" y="263.70" width="8.2" height="8.2" fill="#000"/>
<rect x="209.30" y="323.70" width="8.2" height="8.2" fill="#000"/>
<rect x="246.10" y="328.10" width="8.2" height="8.2" fill="#000"/>
<rect x="282.90" y="328.80" width="8.2" height="8.2" fill="#000"/>
<rect x="319.60" y="327.60" width="8.2" height="8.2" fill="#000"/>
<rect x="357.00" y="326.50" width="8.2" height="8.2" fill="#000"/>
<line x1="70.93" y1="117.87" x2="97.07" y2="103.23" stroke="#1b1bd2" stroke-width="2.4"/>
<line x1="108.08" y1="101.90" x2="134.22" y2="109.10" stroke="#1b1bd2" stroke-width="2.4"/>
<line x1="143.47" y1="115.60" x2="173.43" y2="157.90" stroke="#1b1bd2" stroke-width="2.4"/>
<line x1="178.88" y1="168.46" x2="211.42" y2="261.34" stroke="#1b1bd2" stroke-width="2.4"/>
<line x1="217.96" y1="270.90" x2="245.64" y2="294.60" stroke="#1b1bd2" stroke-width="2.4"/>
<line x1="254.76" y1="294.60" x2="282.44" y2="270.90" stroke="#1b1bd2" stroke-width="2.4"/>
<line x1="292.20" y1="269.99" x2="318.50" y2="285.11" stroke="#1b1bd2" stroke-width="2.4"/>
<line x1="329.49" y1="286.54" x2="355.31" y2="279.56" stroke="#1b1bd2" stroke-width="2.4"/>
<circle cx="65.7" cy="120.8" r="3.25" fill="none" stroke="#1b1bd2" stroke-width="2.7"/>
<circle cx="102.3" cy="100.3" r="3.25" fill="none" stroke="#1b1bd2" stroke-width="2.7"/>
<circle cx="140" cy="110.7" r="3.25" fill="none" stroke="#1b1bd2" stroke-width="2.7"/>
<circle cx="176.9" cy="162.8" r="3.25" fill="none" stroke="#1b1bd2" stroke-width="2.7"/>
<circle cx="213.4" cy="267" r="3.25" fill="none" stroke="#1b1bd2" stroke-width="2.7"/>
<circle cx="250.2" cy="298.5" r="3.25" fill="none" stroke="#1b1bd2" stroke-width="2.7"/>
<circle cx="287" cy="267" r="3.25" fill="none" stroke="#1b1bd2" stroke-width="2.7"/>
<circle cx="323.7" cy="288.1" r="3.25" fill="none" stroke="#1b1bd2" stroke-width="2.7"/>
<circle cx="361.1" cy="278" r="3.25" fill="none" stroke="#1b1bd2" stroke-width="2.7"/>
<line x1="75.2" y1="87.50" x2="450.0" y2="87.50" stroke="#1b1bd2" stroke-width="2.3" stroke-dasharray="5.2 4.22" stroke-dashoffset="2.0"/>
<line x1="235.8" y1="296.30" x2="450.0" y2="296.30" stroke="#1b1bd2" stroke-width="2.3" stroke-dasharray="5.2 4.22" stroke-dashoffset="-0.5"/>
<path d="M68.7,56.2 C76,56.6 83,60 85,65.5 C87,71 83,76 76.2,78.6 C72,80.2 66,81.8 62,83" fill="none" stroke="#000" stroke-width="2"/>
<path d="M50.6,86.5 L62.8,80.3 L64.1,87.7 Z" fill="#000"/>
<path d="M363.8,266.2 C354,268 344,273 341.2,279.5 C339.5,284.5 347,288.5 356,289.6 C366,290.6 385,290.6 398,290.4" fill="none" stroke="#1b1bd2" stroke-width="2.2"/>
<path d="M410.6,289.4 L395.6,286.5 L396.2,294.1 Z" fill="#1b1bd2"/>
<text x="406.8" y="76.2" font-family="Liberation Sans, Arial, sans-serif" font-size="19.5" font-weight="bold" fill="#1b1bd2">AlF<tspan font-size="13.6" dx="0.8" dy="5.6">3</tspan></text>
<text x="396.8" y="317.0" font-family="Liberation Sans, Arial, sans-serif" font-size="19.5" font-weight="bold" fill="#1b1bd2">Al<tspan font-size="13.6" dy="5.9">2</tspan><tspan dy="-5.9">O</tspan><tspan font-size="13.6" dx="0.5" dy="5.9">3</tspan></text>
</svg>
</body></html>
